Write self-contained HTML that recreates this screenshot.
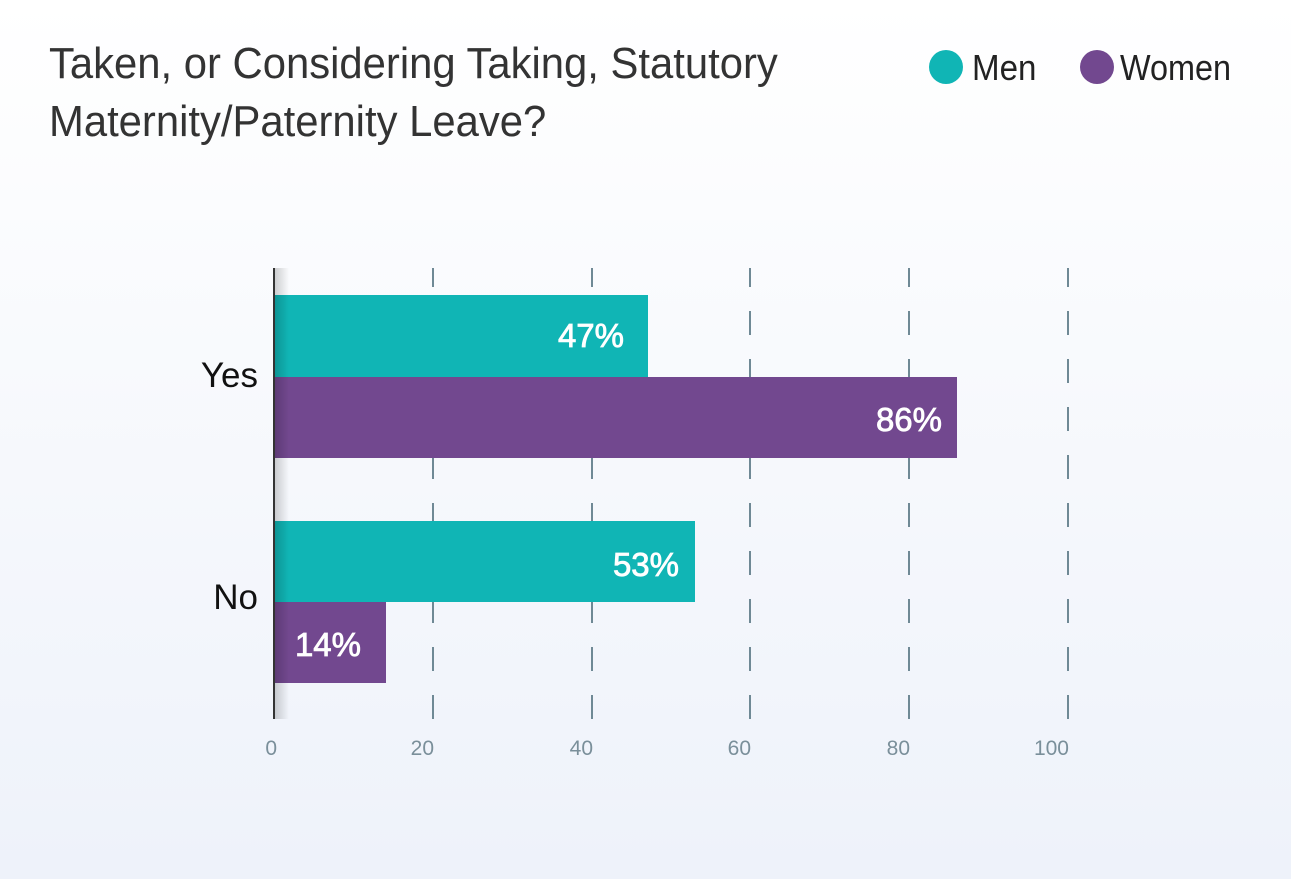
<!DOCTYPE html>
<html><head><style>
body{margin:0}
.c{width:1291px;height:879px;position:relative;overflow:hidden;background:linear-gradient(#ffffff,#eef2fa);font-family:"Liberation Sans",sans-serif}
.t{position:absolute;left:49px;top:35px;font-size:44px;line-height:58px;color:#333;transform:scaleX(0.95);transform-origin:left top;white-space:nowrap}
</style></head><body><div class="c">
<div class="t">Taken, or Considering Taking, Statutory<br>Maternity/Paternity Leave?</div>
<svg width="1291" height="879" style="position:absolute;left:0;top:0" font-family="Liberation Sans, sans-serif">
<defs><linearGradient id="sh" x1="0" x2="1"><stop offset="0" stop-color="#000" stop-opacity="0.18"/><stop offset="1" stop-color="#000" stop-opacity="0"/></linearGradient></defs>
<circle cx="946" cy="67" r="17" fill="#10b5b5"/>
<text x="972" y="80" font-size="36" fill="#222" transform="translate(972 0) scale(0.92 1) translate(-972 0)">Men</text>
<circle cx="1097" cy="67" r="17" fill="#72488f"/>
<text x="1120" y="80" font-size="36" fill="#222" transform="translate(1120 0) scale(0.9 1) translate(-1120 0)">Women</text>
<g stroke="#6f8995" stroke-width="2" stroke-dasharray="24,24" stroke-dashoffset="5">
<line x1="433" y1="268" x2="433" y2="719"/><line x1="592" y1="268" x2="592" y2="719"/><line x1="750" y1="268" x2="750" y2="719"/><line x1="909" y1="268" x2="909" y2="719"/><line x1="1068" y1="268" x2="1068" y2="719"/>
</g>
<rect x="274" y="295" width="374" height="82" fill="#10b5b5"/>
<rect x="274" y="377" width="683" height="81" fill="#72488f"/>
<rect x="274" y="521" width="421" height="81" fill="#10b5b5"/>
<rect x="274" y="602" width="112" height="81" fill="#72488f"/>
<rect x="275" y="268" width="14" height="451" fill="url(#sh)"/>
<line x1="274" y1="268" x2="274" y2="719" stroke="#333" stroke-width="2"/>
<g font-size="33" fill="#fff" stroke="#fff" stroke-width="0.8" text-anchor="end">
<text x="624" y="347">47%</text><text x="942" y="431">86%</text><text x="679" y="576">53%</text><text x="361" y="656">14%</text>
</g>
<g font-size="35" fill="#111" text-anchor="end">
<text x="258" y="387">Yes</text><text x="258" y="609">No</text>
</g>
<g font-size="21" fill="#7a8f9a" text-anchor="end">
<text x="277" y="755">0</text><text x="434" y="755">20</text><text x="593" y="755">40</text><text x="751" y="755">60</text><text x="910" y="755">80</text><text x="1069" y="755">100</text>
</g>
</svg></div></body></html>
